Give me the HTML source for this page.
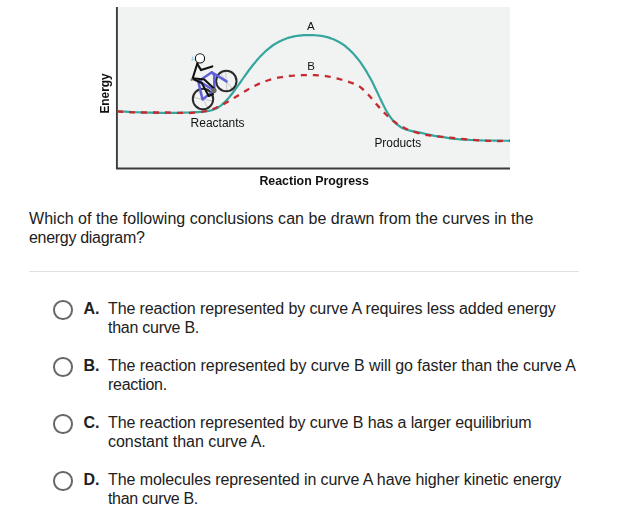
<!DOCTYPE html>
<html><head><meta charset="utf-8">
<style>
html,body{margin:0;padding:0;background:#fff;width:635px;height:511px;overflow:hidden;position:relative}
body{font-family:"Liberation Sans",sans-serif;color:#212121}
svg.chart{position:absolute;left:0;top:0;will-change:transform}
.ln{position:absolute;white-space:nowrap;font-size:16px;line-height:18px}
.hr{position:absolute;left:29px;top:271px;width:550px;height:1px;background:#e0e0e0}
.opt{position:absolute;left:52px;width:560px;height:40px}
.radio{position:absolute;left:1px;top:0;width:15.6px;height:15.6px;border:2.2px solid #686868;border-radius:50%}
.lab{position:absolute;left:31.5px;top:0px;font-weight:bold;font-size:16px;line-height:18px}
.l1{left:56px;top:0px}
.l2{left:56px;top:18.7px}
</style></head><body>
<svg class="chart" width="635" height="200" viewBox="0 0 635 200">
  <rect x="117" y="7" width="393" height="162" fill="#f1f2f2"/>
  <path d="M116.9 7 V168.5 H510" fill="none" stroke="#3b3b3b" stroke-width="1.9"/>
  <path d="M117.0 111.4 C118.3 111.4 122.3 111.6 125.0 111.7 C127.7 111.9 130.3 112.0 133.0 112.1 C135.7 112.2 138.3 112.3 141.0 112.4 C143.7 112.5 146.3 112.5 149.0 112.6 C151.7 112.7 154.3 112.7 157.0 112.8 C159.7 112.8 162.3 112.9 165.0 112.9 C167.7 112.9 170.3 112.9 173.0 112.9 C175.7 112.8 178.3 112.8 181.0 112.7 C183.7 112.7 186.3 112.6 189.0 112.5 C191.7 112.4 195.2 112.2 197.0 112.1 C198.8 112.0 199.0 112.0 200.0 111.9 C201.0 111.9 202.0 111.8 203.0 111.7 C204.0 111.6 205.0 111.5 206.0 111.4 C207.0 111.3 208.0 111.1 209.0 110.9 C210.0 110.7 211.0 110.5 212.0 110.2 C213.0 109.9 214.0 109.5 215.0 109.1 C216.0 108.6 217.0 108.1 218.0 107.5 C219.0 107.0 220.0 106.3 221.0 105.5 C222.0 104.7 223.0 103.9 224.0 102.9 C225.0 102.0 226.0 100.9 227.0 99.8 C228.0 98.7 229.0 97.6 230.0 96.3 C231.0 95.1 232.0 93.8 233.0 92.5 C234.0 91.2 235.0 89.8 236.0 88.4 C237.0 87.0 238.0 85.6 239.0 84.2 C240.0 82.8 241.0 81.3 242.0 79.9 C243.0 78.5 244.0 77.0 245.0 75.6 C246.0 74.2 247.0 72.8 248.0 71.5 C249.0 70.1 250.0 68.8 251.0 67.5 C252.0 66.2 253.0 64.9 254.0 63.7 C255.0 62.5 256.0 61.3 257.0 60.1 C258.0 59.0 259.0 57.8 260.0 56.8 C261.0 55.7 262.0 54.7 263.0 53.7 C264.0 52.7 265.0 51.7 266.0 50.8 C267.0 50.0 268.0 49.1 269.0 48.3 C270.0 47.5 271.0 46.7 272.0 46.0 C273.0 45.3 274.0 44.6 275.0 44.0 C276.0 43.4 277.0 42.8 278.0 42.2 C279.0 41.7 280.0 41.2 281.0 40.7 C282.0 40.2 283.0 39.8 284.0 39.4 C285.0 39.0 286.0 38.6 287.0 38.3 C288.0 38.0 289.0 37.7 290.0 37.4 C291.0 37.1 292.0 36.9 293.0 36.6 C294.0 36.4 295.0 36.2 296.0 36.0 C297.0 35.9 298.0 35.7 299.0 35.6 C300.0 35.5 301.0 35.4 302.0 35.3 C303.0 35.2 304.0 35.2 305.0 35.1 C306.0 35.1 307.0 35.1 308.0 35.0 C309.0 35.0 310.0 35.0 311.0 35.1 C312.0 35.1 313.0 35.1 314.0 35.2 C315.0 35.2 316.0 35.3 317.0 35.4 C318.0 35.4 319.0 35.5 320.0 35.7 C321.0 35.8 322.0 36.0 323.0 36.2 C324.0 36.3 325.0 36.6 326.0 36.8 C327.0 37.0 328.0 37.3 329.0 37.6 C330.0 37.9 331.0 38.3 332.0 38.7 C333.0 39.0 334.0 39.5 335.0 39.9 C336.0 40.4 337.0 40.9 338.0 41.4 C339.0 42.0 340.0 42.5 341.0 43.2 C342.0 43.8 343.0 44.5 344.0 45.2 C345.0 46.0 346.0 46.7 347.0 47.6 C348.0 48.4 349.0 49.3 350.0 50.3 C351.0 51.2 352.0 52.2 353.0 53.3 C354.0 54.3 355.0 55.5 356.0 56.7 C357.0 57.9 358.0 59.1 359.0 60.4 C360.0 61.7 361.0 63.1 362.0 64.6 C363.0 66.1 364.0 67.6 365.0 69.2 C366.0 70.8 367.0 72.4 368.0 74.2 C369.0 75.9 370.0 77.7 371.0 79.6 C372.0 81.5 373.0 83.4 374.0 85.4 C375.0 87.5 376.0 89.6 377.0 91.7 C378.0 93.8 379.0 96.0 380.0 98.1 C381.0 100.2 382.0 102.3 383.0 104.4 C384.0 106.4 385.0 108.3 386.0 110.2 C387.0 112.0 388.0 113.7 389.0 115.2 C390.0 116.7 391.0 118.1 392.0 119.3 C393.0 120.6 394.0 121.7 395.0 122.6 C396.0 123.6 397.0 124.5 398.0 125.2 C399.0 126.0 400.0 126.6 401.0 127.2 C402.0 127.8 403.0 128.2 404.0 128.7 C405.0 129.1 406.0 129.5 407.0 129.8 C408.0 130.1 407.8 130.1 410.0 130.6 C412.2 131.1 416.7 132.0 420.0 132.7 C423.3 133.4 426.7 134.1 430.0 134.8 C433.3 135.5 436.7 136.2 440.0 136.7 C443.3 137.3 446.7 137.8 450.0 138.3 C453.3 138.7 456.7 139.0 460.0 139.3 C463.3 139.6 466.7 139.8 470.0 140.0 C473.3 140.1 476.7 140.2 480.0 140.3 C483.3 140.4 486.7 140.5 490.0 140.5 C493.3 140.6 496.7 140.6 500.0 140.7 C503.3 140.7 508.3 140.8 510.0 140.8" fill="none" stroke="#35a59e" stroke-width="2.2"/>
  <path d="M117.0 111.3 C118.3 111.4 122.3 111.8 125.0 112.0 C127.7 112.2 130.3 112.3 133.0 112.3 C135.7 112.4 138.3 112.5 141.0 112.5 C143.7 112.5 146.3 112.5 149.0 112.5 C151.7 112.5 154.3 112.5 157.0 112.5 C159.7 112.5 162.3 112.5 165.0 112.5 C167.7 112.5 170.3 112.6 173.0 112.7 C175.7 112.7 178.3 112.9 181.0 112.9 C183.7 113.0 186.3 113.0 189.0 113.0 C191.7 112.9 195.2 112.6 197.0 112.5 C198.8 112.4 199.0 112.3 200.0 112.2 C201.0 112.0 202.0 111.9 203.0 111.7 C204.0 111.5 205.0 111.3 206.0 111.0 C207.0 110.8 208.0 110.6 209.0 110.3 C210.0 110.0 211.0 109.7 212.0 109.3 C213.0 109.0 214.0 108.6 215.0 108.2 C216.0 107.8 217.0 107.3 218.0 106.9 C219.0 106.4 220.0 105.9 221.0 105.4 C222.0 104.9 223.0 104.4 224.0 103.9 C225.0 103.3 226.0 102.8 227.0 102.2 C228.0 101.6 229.0 101.0 230.0 100.4 C231.0 99.9 232.0 99.2 233.0 98.6 C234.0 98.0 235.0 97.4 236.0 96.8 C237.0 96.2 238.0 95.6 239.0 94.9 C240.0 94.3 241.0 93.7 242.0 93.1 C243.0 92.5 244.0 91.9 245.0 91.3 C246.0 90.7 247.0 90.1 248.0 89.5 C249.0 88.9 250.0 88.4 251.0 87.8 C252.0 87.3 253.0 86.7 254.0 86.2 C255.0 85.7 256.0 85.2 257.0 84.7 C258.0 84.2 259.0 83.8 260.0 83.4 C261.0 82.9 262.0 82.5 263.0 82.1 C264.0 81.7 265.0 81.4 266.0 81.0 C267.0 80.7 268.0 80.4 269.0 80.0 C270.0 79.7 271.0 79.4 272.0 79.2 C273.0 78.9 274.0 78.6 275.0 78.4 C276.0 78.2 277.0 77.9 278.0 77.7 C279.0 77.5 280.0 77.3 281.0 77.2 C282.0 77.0 283.0 76.8 284.0 76.7 C285.0 76.5 286.0 76.4 287.0 76.3 C288.0 76.1 289.0 76.0 290.0 75.9 C291.0 75.8 292.0 75.7 293.0 75.7 C294.0 75.6 295.0 75.5 296.0 75.5 C297.0 75.4 298.0 75.3 299.0 75.3 C300.0 75.3 301.0 75.2 302.0 75.2 C303.0 75.2 304.0 75.1 305.0 75.1 C306.0 75.1 307.0 75.1 308.0 75.1 C309.0 75.1 310.0 75.1 311.0 75.1 C312.0 75.1 313.0 75.1 314.0 75.1 C315.0 75.2 316.0 75.2 317.0 75.3 C318.0 75.3 319.0 75.4 320.0 75.5 C321.0 75.5 322.0 75.6 323.0 75.7 C324.0 75.8 325.0 76.0 326.0 76.1 C327.0 76.2 328.0 76.4 329.0 76.6 C330.0 76.7 331.0 76.9 332.0 77.2 C333.0 77.4 334.0 77.6 335.0 77.9 C336.0 78.1 337.0 78.4 338.0 78.6 C339.0 78.9 340.0 79.2 341.0 79.5 C342.0 79.8 343.0 80.1 344.0 80.4 C345.0 80.7 346.0 81.1 347.0 81.4 C348.0 81.7 349.0 82.0 350.0 82.3 C351.0 82.7 352.0 83.0 353.0 83.4 C354.0 83.8 355.0 84.2 356.0 84.6 C357.0 85.1 358.0 85.7 359.0 86.3 C360.0 86.9 361.0 87.7 362.0 88.5 C363.0 89.3 364.0 90.3 365.0 91.2 C366.0 92.2 367.0 93.3 368.0 94.4 C369.0 95.4 370.0 96.6 371.0 97.7 C372.0 98.9 373.0 100.1 374.0 101.3 C375.0 102.5 376.0 103.7 377.0 104.8 C378.0 106.0 379.0 107.1 380.0 108.2 C381.0 109.4 382.0 110.4 383.0 111.5 C384.0 112.5 385.0 113.5 386.0 114.5 C387.0 115.4 388.0 116.4 389.0 117.3 C390.0 118.2 391.0 119.0 392.0 119.8 C393.0 120.6 394.0 121.4 395.0 122.1 C396.0 122.9 397.0 123.6 398.0 124.2 C399.0 124.9 400.0 125.5 401.0 126.1 C402.0 126.7 403.0 127.2 404.0 127.7 C405.0 128.3 406.0 128.7 407.0 129.2 C408.0 129.6 407.8 129.7 410.0 130.5 C412.2 131.2 416.7 132.8 420.0 133.6 C423.3 134.5 426.7 135.0 430.0 135.5 C433.3 136.0 436.7 136.3 440.0 136.7 C443.3 137.0 446.7 137.3 450.0 137.7 C453.3 138.0 456.7 138.4 460.0 138.7 C463.3 139.0 466.7 139.4 470.0 139.6 C473.3 139.9 476.7 140.2 480.0 140.4 C483.3 140.6 486.7 140.8 490.0 140.9 C493.3 141.0 496.7 141.1 500.0 141.0 C503.3 141.0 508.3 140.7 510.0 140.6" fill="none" stroke="#c62a2f" stroke-width="2.3" stroke-dasharray="6 6"/>
  <!-- labels -->
  <g font-family="Liberation Sans" fill="#111">
    <text x="307" y="30" font-size="11.5">A</text>
    <text x="307.2" y="70.2" font-size="11.5">B</text>
    <text x="190.6" y="127.2" font-size="12">Reactants</text>
    <text x="374.4" y="146.8" font-size="11.9">Products</text>
    <text x="259.4" y="185.3" font-size="12.4" font-weight="bold">Reaction Progress</text>
    <text transform="translate(108.6 113.6) rotate(-90)" font-size="11.9" font-weight="bold">Energy</text>
  </g>
  <!-- biker -->
  <g>
    <g stroke="#c4c4c4" stroke-width="0.9">
      <line x1="193.5" y1="97.5" x2="212.5" y2="101"/>
      <line x1="198" y1="90" x2="208" y2="108.5"/>
      <line x1="225.6" y1="70.8" x2="227" y2="91.2"/>
      <line x1="220" y1="73" x2="232.5" y2="89"/>
    </g>
    <circle cx="203" cy="99" r="10.2" fill="none" stroke="#2b2b2b" stroke-width="2"/>
    <circle cx="226.3" cy="81" r="10.2" fill="none" stroke="#2b2b2b" stroke-width="2"/>
    <g stroke="#5f5fd9" stroke-width="2.5" fill="none" stroke-linecap="round" stroke-linejoin="round">
      <path d="M199.3 80.8 L211.8 72.3 L226.5 81.4"/>
      <path d="M211.8 72.3 L214.3 75 L214.3 90"/>
      <path d="M198.3 81.5 L202.5 99.4 L214 90.5 L199 81"/>
    </g>
    <g stroke="#111" stroke-width="2.1" fill="none" stroke-linecap="round" stroke-linejoin="round">
      <path d="M197.4 63.2 L192.7 78.3 L204.3 79.5 L214.3 88.8"/>
      <path d="M192.5 78.8 L201.8 83 L208.7 96 L213 94"/>
      <path d="M197.4 64 L201.1 70.1 L212.3 66.4"/>
    </g>
    <circle cx="191.6" cy="79.8" r="1.2" fill="#888"/>
    <circle cx="214" cy="90.6" r="2.6" fill="#6a6a6a"/>
    <circle cx="200" cy="58.4" r="4.6" fill="#fff" stroke="#111" stroke-width="1.1"/>
    <circle cx="192.6" cy="57.6" r="0.8" fill="#6cc4e8"/>
    <circle cx="192.2" cy="59.8" r="0.8" fill="#6cc4e8"/>
    <circle cx="193.8" cy="59.5" r="0.6" fill="#6cc4e8"/>
  </g>
</svg>

<div class="ln" style="left:29px;top:210px;letter-spacing:0.028px">Which of the following conclusions can be drawn from the curves in the</div>
<div class="ln" style="left:29px;top:229px;letter-spacing:-0.3px">energy diagram?</div>
<div class="hr"></div>
<div class="opt" style="top:300px"><div class="radio"></div><div class="lab">A.</div><div class="ln l1" style="letter-spacing:-0.111px">The reaction represented by curve A requires less added energy</div><div class="ln l2" style="letter-spacing:-0.250px">than curve B.</div></div>
<div class="opt" style="top:357px"><div class="radio"></div><div class="lab">B.</div><div class="ln l1" style="letter-spacing:-0.065px">The reaction represented by curve B will go faster than the curve A</div><div class="ln l2" style="letter-spacing:-0.275px">reaction.</div></div>
<div class="opt" style="top:414px"><div class="radio"></div><div class="lab">C.</div><div class="ln l1" style="letter-spacing:-0.100px">The reaction represented by curve B has a larger equilibrium</div><div class="ln l2" style="letter-spacing:-0.024px">constant than curve A.</div></div>
<div class="opt" style="top:471px"><div class="radio"></div><div class="lab">D.</div><div class="ln l1" style="letter-spacing:-0.090px">The molecules represented in curve A have higher kinetic energy</div><div class="ln l2" style="letter-spacing:-0.333px">than curve B.</div></div>
</body></html>
